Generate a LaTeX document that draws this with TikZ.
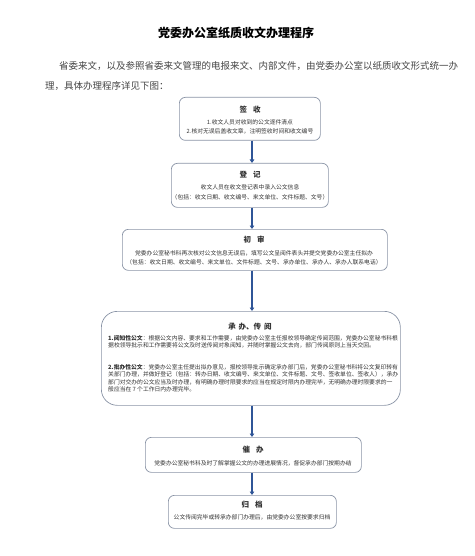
\documentclass[tikz,border=0pt]{standalone}
\usepackage{fontspec}
\setmainfont{Noto Sans CJK SC}
\usetikzlibrary{arrows.meta}
\definecolor{boxline}{HTML}{8A94A6}
\definecolor{arrowblue}{HTML}{2F5597}
\definecolor{txt}{HTML}{333333}
\definecolor{ptxt}{HTML}{444444}
\begin{document}
\begin{tikzpicture}[x=1pt,y=-1pt,
  box/.style={draw=boxline,line width=0.7pt,rounded corners=6pt,fill=white,anchor=north west,inner sep=0pt},
  head/.style={font=\fontsize{7.5}{9}\selectfont\bfseries,text=txt,inner sep=0pt},
  small/.style={font=\fontsize{5.8}{7.5}\selectfont,text=txt,inner sep=0pt},
  para/.style={font=\fontsize{9.5}{12}\selectfont,text=ptxt,inner sep=0pt,anchor=west},
  arr/.style={draw=arrowblue,line width=1.4pt,-{Triangle[length=3.5pt,width=4.5pt]}}]
\useasboundingbox (0,0) rectangle (474,556);
% title and intro
\node[font=\fontsize{12}{14}\selectfont\bfseries,inner sep=0pt] (title) at (236,33) {党委办公室纸质收文办理程序};
\node[para] (p1) at (59,66) {省委来文，以及参照省委来文管理的电报来文、内部文件，由党委办公室以纸质收文形式统一办};
\node[para] (p2) at (45,86) {理，具体办理程序详见下图：};
% boxes
\node[box,minimum width=141pt,minimum height=43pt] (b1) at (179,97) {};
\node[box,minimum width=157pt,minimum height=44pt] (b2) at (171,163) {};
\node[box,minimum width=265pt,minimum height=41pt] (b3) at (122,229) {};
\node[box,minimum width=299pt,minimum height=94pt,rounded corners=16pt] (b4) at (101,311) {};
\node[box,minimum width=216pt,minimum height=35pt] (b5) at (145,437) {};
\node[box,minimum width=168pt,minimum height=33pt] (b6) at (168,495) {};
% box 1
\node[head] (t1h) at (250,110) {签\hspace{0.8em}收};
\node[small] (t1a) at (250,122) {1.收文人员对收到的公文逐件清点};
\node[small] (t1b) at (250,131) {2.核对无误后盖收文章，注明签收时间和收文编号};
% box 2
\node[head] (t2h) at (250,175) {登\hspace{0.8em}记};
\node[small] (t2a) at (250,187) {收文人员在收文登记表中录入公文信息};
\node[small] (t2b) at (250,197) {（包括：收文日期、收文编号、来文单位、文件标题、文号）};
% box 3
\node[head] (t3h) at (254,240) {初\hspace{0.8em}审};
\node[small] (t3a) at (254,253) {党委办公室秘书科再次核对公文信息无误后，填写公文呈阅件表头并提交党委办公室主任拟办};
\node[small] (t3b) at (254,262) {（包括：收文日期、收文编号、来文单位、文件标题、文号、承办单位、承办人、承办人联系电话）};
% box 4
\node[head] (t4h) at (250,327) {承\hspace{0.4em}办、传\hspace{0.4em}阅};
\node[small,anchor=west] (t4a) at (108,338) {\textbf{1.阅知性公文}：根据公文内容、要求和工作需要，由党委办公室主任报校领导确定传阅范围，党委办公室秘书科根};
\node[small,anchor=west] (t4b) at (108,345.5) {据校领导批示和工作需要将公文及时送传阅对象阅知，并随时掌握公文去向，部门传阅原则上当天交回。};
\node[small,anchor=west] (t4c) at (108,367) {\textbf{2.批办性公文}：党委办公室主任提出拟办意见，报校领导批示确定承办部门后，党委办公室秘书科将公文复印转有};
\node[small,anchor=west] (t4d) at (108,374.5) {关部门办理，并做好登记（包括：转办日期、收文编号、来文单位、文件标题、文号、签收单位、签收人），承办};
\node[small,anchor=west] (t4e) at (108,382) {部门对交办的公文应当及时办理，有明确办理时限要求的应当在规定时限内办理完毕，无明确办理时限要求的一};
\node[small,anchor=west] (t4f) at (108,389.5) {般应当在 7 个工作日内办理完毕。};
% box 5
\node[head] (t5h) at (253,450) {催\hspace{0.8em}办};
\node[small] (t5a) at (253,463) {党委办公室秘书科及时了解掌握公文的办理进展情况，督促承办部门按期办结};
% box 6
\node[head] (t6h) at (252,505) {归\hspace{0.8em}档};
\node[small] (t6a) at (252,517) {公文传阅完毕或转承办部门办理后，由党委办公室按要求归档};
% arrows
\coordinate (ax) at (252,0);
\draw[arr] (b1.south -| ax) -- (b2.north -| ax);
\draw[arr] (b2.south -| ax) -- (b3.north -| ax);
\draw[arr] (b3.south -| ax) -- (b4.north -| ax);
\draw[arr] (b4.south -| ax) -- (b5.north -| ax);
\draw[arr] (b5.south -| ax) -- (b6.north -| ax);
\end{tikzpicture}
\end{document}
